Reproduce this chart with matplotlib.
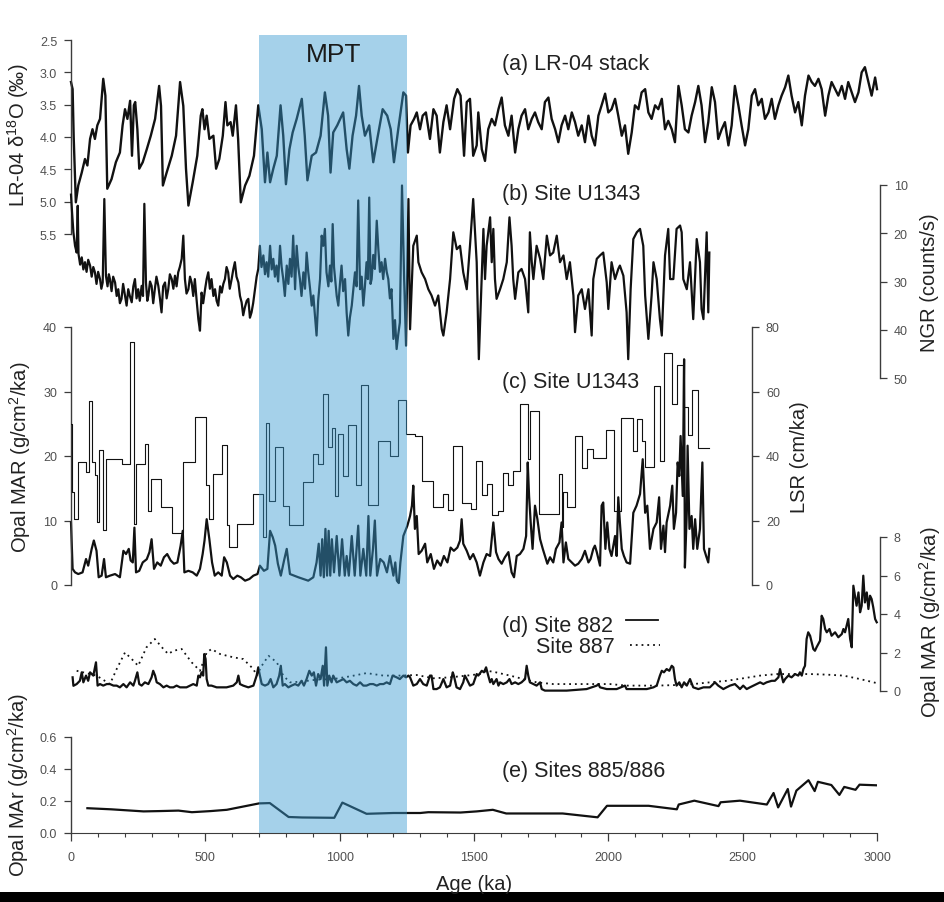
import matplotlib.pyplot as plt
from matplotlib.lines import Line2D
from matplotlib.patches import Rectangle
from matplotlib.ticker import MultipleLocator, FormatStrFormatter

plt.rcParams['font.family'] = ['Liberation Sans', 'DejaVu Sans']
plt.rcParams['mathtext.fontset'] = 'custom'
plt.rcParams['mathtext.rm'] = 'Liberation Sans'
plt.rcParams['mathtext.it'] = 'Liberation Sans:italic'

# (age ka, d18O permil) - LR-04 stack
lr04 = [(0, 3.15), (6, 3.26), (10, 4.0), (18, 5.01), (27, 4.75), (40, 4.55), (52, 4.34), (61, 4.44), (71, 4.03), (80, 3.88),
        (89, 4.03), (98, 3.82), (108, 3.72), (120, 3.10), (128, 3.36), (135, 4.80), (151, 4.65), (167, 4.39), (182, 4.24), (192, 3.82),
        (201, 3.57), (210, 3.72), (220, 3.44), (227, 4.29), (234, 3.51), (239, 3.46), (247, 3.88), (254, 4.49), (267, 4.39), (282, 4.19),
        (297, 3.98), (313, 3.72), (328, 3.21), (335, 3.52), (342, 4.75), (356, 4.55), (375, 4.29), (391, 3.98), (406, 3.15), (418, 3.52),
        (428, 4.49), (437, 5.06), (453, 4.70), (470, 4.29), (483, 3.67), (489, 3.57), (497, 3.88), (505, 3.67), (515, 4.03), (530, 3.98),
        (540, 4.49), (552, 4.34), (565, 3.98), (575, 3.46), (582, 3.82), (594, 3.77), (602, 3.98), (614, 3.51), (622, 4.03), (632, 5.01),
        (648, 4.75), (664, 4.60), (681, 4.29), (697, 3.51), (710, 3.88), (722, 4.70), (731, 4.24), (741, 4.70), (753, 4.49), (766, 4.29),
        (780, 3.51), (790, 3.98), (800, 4.73), (813, 4.19), (825, 3.93), (840, 3.72), (859, 3.41), (870, 3.98), (880, 4.67), (896, 4.29),
        (912, 4.24), (929, 3.98), (945, 3.31), (957, 3.67), (966, 4.55), (976, 3.93), (991, 3.82), (1013, 3.62), (1026, 4.19), (1036, 4.49),
        (1048, 3.98), (1061, 3.67), (1072, 3.21), (1082, 3.67), (1094, 3.98), (1110, 3.82), (1125, 4.39), (1140, 4.03), (1160, 3.57), (1177, 3.67),
        (1190, 3.88), (1202, 4.39), (1218, 3.88), (1237, 3.31), (1247, 3.36), (1254, 4.24), (1264, 3.82), (1277, 3.72), (1287, 3.62), (1299, 3.88),
        (1309, 3.67), (1321, 3.62), (1336, 4.03), (1349, 3.57), (1361, 3.67), (1373, 4.24), (1386, 3.77), (1398, 3.51), (1411, 3.88), (1426, 3.41),
        (1438, 3.26), (1450, 3.36), (1463, 4.29), (1473, 3.46), (1485, 3.41), (1497, 4.29), (1510, 4.13), (1516, 3.62), (1529, 4.19), (1541, 4.37),
        (1553, 3.88), (1566, 3.72), (1578, 3.82), (1591, 3.57), (1603, 3.39), (1615, 3.82), (1628, 3.98), (1640, 3.67), (1653, 4.24), (1665, 3.88),
        (1677, 3.67), (1690, 3.57), (1702, 3.88), (1715, 3.72), (1727, 3.62), (1739, 3.77), (1752, 3.88), (1764, 3.46), (1777, 3.39), (1789, 3.72),
        (1802, 3.88), (1814, 4.08), (1826, 3.82), (1839, 3.67), (1851, 3.88), (1864, 3.62), (1876, 3.77), (1888, 3.98), (1901, 3.82), (1913, 4.08),
        (1926, 3.67), (1938, 3.98), (1950, 4.13), (1963, 3.67), (1975, 3.51), (1988, 3.33), (2000, 3.62), (2012, 3.57), (2025, 3.41), (2037, 3.67),
        (2050, 3.98), (2062, 3.82), (2074, 4.26), (2087, 3.93), (2099, 3.51), (2112, 3.57), (2124, 3.31), (2137, 3.26), (2149, 3.62), (2161, 3.72),
        (2174, 3.51), (2186, 3.57), (2199, 3.41), (2211, 3.88), (2223, 3.75), (2236, 3.88), (2248, 4.08), (2261, 3.21), (2273, 3.51), (2285, 3.88),
        (2298, 3.93), (2310, 3.67), (2323, 3.46), (2335, 3.21), (2347, 3.51), (2360, 4.08), (2372, 3.77), (2385, 3.23), (2397, 3.46), (2409, 4.03),
        (2422, 3.88), (2434, 3.77), (2447, 4.13), (2459, 3.82), (2471, 3.21), (2484, 3.51), (2496, 3.82), (2509, 4.13), (2521, 3.88), (2534, 3.36),
        (2546, 3.26), (2558, 3.51), (2571, 3.41), (2583, 3.72), (2596, 3.62), (2608, 3.41), (2620, 3.72), (2633, 3.51), (2645, 3.36), (2658, 3.23),
        (2670, 3.05), (2682, 3.36), (2695, 3.62), (2707, 3.46), (2720, 3.82), (2732, 3.36), (2745, 3.05), (2757, 3.15), (2769, 3.21), (2782, 3.10),
        (2794, 3.26), (2807, 3.67), (2819, 3.36), (2831, 3.15), (2844, 3.26), (2856, 3.36), (2869, 3.21), (2881, 3.41), (2893, 3.15), (2906, 3.31),
        (2918, 3.46), (2931, 3.31), (2943, 3.00), (2955, 2.92), (2968, 3.15), (2980, 3.36), (2993, 3.08), (3000, 3.26)]

# (age, NGR counts/s) - Site U1343
ngr = [(0, 12.0), (4, 15.7), (9, 19.8), (15, 22.6), (21, 24.0), (25, 14.3), (28, 24.3), (34, 26.5), (40, 25.0), (46, 27.5),
       (52, 26.0), (58, 28.0), (64, 25.5), (71, 26.7), (77, 29.0), (83, 27.0), (89, 28.1), (95, 30.5), (101, 28.0), (108, 29.5),
       (113, 31.5), (118, 30.2), (124, 12.9), (130, 28.8), (136, 31.0), (141, 28.5), (145, 29.5), (151, 32.0), (157, 29.0), (164, 30.2),
       (170, 33.0), (176, 31.6), (182, 34.5), (188, 33.6), (194, 30.5), (201, 32.9), (207, 35.0), (213, 31.6), (219, 33.0), (226, 34.3),
       (232, 31.0), (238, 29.5), (244, 33.5), (250, 31.6), (256, 34.0), (263, 30.9), (268, 33.0), (273, 13.9), (279, 30.2), (284, 34.0),
       (288, 32.9), (294, 30.0), (300, 30.9), (306, 34.5), (312, 31.6), (318, 29.0), (325, 30.9), (331, 33.5), (337, 36.4), (343, 31.0),
       (350, 30.2), (356, 33.5), (362, 31.6), (368, 28.5), (375, 29.5), (381, 31.5), (387, 28.8), (393, 31.0), (399, 28.1), (405, 27.0),
       (412, 25.3), (418, 20.5), (424, 29.5), (430, 32.5), (437, 31.6), (443, 29.0), (449, 30.2), (455, 33.0), (461, 29.5), (467, 33.5),
       (474, 37.8), (480, 40.2), (486, 32.3), (492, 34.5), (499, 31.6), (505, 29.5), (511, 28.1), (517, 31.5), (523, 29.5), (530, 33.0),
       (536, 31.6), (542, 34.0), (548, 35.0), (555, 31.0), (561, 32.3), (567, 30.5), (573, 29.5), (579, 27.0), (585, 28.1), (591, 31.5),
       (598, 29.5), (604, 27.5), (610, 26.0), (616, 29.0), (623, 30.2), (629, 33.0), (635, 34.3), (641, 37.0), (647, 35.4), (654, 34.0),
       (660, 33.6), (666, 37.5), (672, 36.4), (678, 34.5), (685, 31.6), (691, 29.0), (697, 27.4), (703, 22.6), (709, 27.0), (716, 24.6),
       (722, 28.5), (728, 26.0), (734, 29.0), (741, 22.6), (747, 27.5), (753, 25.3), (759, 29.0), (765, 26.7), (771, 30.0), (778, 22.6),
       (784, 27.0), (790, 29.5), (796, 33.0), (803, 26.7), (809, 30.5), (815, 25.3), (821, 29.0), (827, 20.5), (834, 31.6), (840, 22.6),
       (846, 27.0), (852, 29.5), (858, 33.0), (865, 28.1), (871, 31.5), (877, 24.0), (883, 28.0), (890, 31.6), (896, 35.0), (902, 32.9),
       (908, 37.0), (914, 41.2), (920, 34.0), (927, 29.5), (933, 20.5), (939, 22.6), (945, 19.1), (951, 28.1), (958, 31.0), (964, 26.7),
       (969, 30.0), (974, 18.1), (979, 27.0), (983, 29.5), (989, 33.0), (995, 35.0), (1001, 30.5), (1007, 26.7), (1013, 32.0), (1020, 29.5),
       (1026, 36.5), (1032, 41.2), (1038, 37.5), (1045, 35.0), (1051, 31.6), (1057, 28.1), (1063, 31.0), (1069, 13.2), (1076, 31.6), (1082, 29.0),
       (1088, 35.0), (1094, 31.0), (1100, 26.0), (1105, 29.5), (1110, 12.6), (1115, 30.5), (1119, 29.5), (1125, 24.5), (1131, 27.4), (1138, 17.4),
       (1144, 23.3), (1150, 28.0), (1156, 26.0), (1162, 29.5), (1169, 25.3), (1175, 28.0), (1181, 29.5), (1187, 33.5), (1193, 31.6), (1200, 41.9),
       (1206, 38.0), (1212, 44.0), (1218, 41.0), (1224, 38.5), (1232, 10.1), (1240, 29.5), (1247, 43.3), (1256, 12.9), (1262, 39.9), (1274, 22.6),
       (1287, 20.5), (1293, 26.0), (1305, 28.1), (1318, 29.5), (1330, 31.6), (1342, 32.9), (1355, 35.0), (1367, 32.9), (1380, 39.9), (1386, 41.2),
       (1398, 36.4), (1411, 29.5), (1423, 19.8), (1436, 23.3), (1448, 22.6), (1460, 28.1), (1473, 31.6), (1485, 22.6), (1497, 12.9), (1510, 26.0),
       (1518, 46.1), (1535, 19.1), (1541, 29.5), (1547, 22.6), (1560, 16.7), (1566, 26.0), (1572, 19.1), (1578, 29.5), (1584, 33.6), (1597, 31.6),
       (1609, 29.5), (1622, 26.0), (1632, 16.7), (1640, 22.6), (1646, 29.5), (1653, 33.6), (1665, 28.1), (1677, 27.4), (1690, 29.5), (1702, 36.4),
       (1708, 19.8), (1715, 26.0), (1721, 29.5), (1733, 22.6), (1746, 25.3), (1758, 29.5), (1771, 20.5), (1783, 24.6), (1795, 24.0), (1808, 20.5),
       (1820, 26.0), (1833, 24.6), (1845, 29.5), (1857, 26.0), (1870, 32.9), (1876, 40.5), (1888, 32.9), (1901, 31.6), (1913, 35.7), (1926, 31.6),
       (1938, 41.2), (1944, 29.5), (1957, 25.3), (1969, 24.6), (1981, 24.0), (1994, 30.2), (2000, 35.7), (2012, 26.0), (2025, 29.5), (2037, 27.4),
       (2043, 26.7), (2056, 28.8), (2068, 36.4), (2074, 46.1), (2083, 31.6), (2093, 21.2), (2106, 19.8), (2118, 19.1), (2130, 22.6), (2137, 32.9),
       (2149, 41.9), (2161, 32.9), (2168, 26.0), (2180, 29.5), (2192, 37.8), (2199, 41.2), (2211, 24.6), (2223, 19.1), (2230, 29.5), (2242, 29.5),
       (2254, 19.1), (2267, 18.4), (2273, 19.8), (2279, 29.5), (2292, 31.6), (2304, 26.0), (2316, 37.8), (2329, 21.2), (2341, 26.0), (2347, 35.7),
       (2354, 37.8), (2366, 19.8), (2372, 36.4), (2376, 24.0)]

# (age, opal MAR g/cm2/ka) - Site U1343
opal_u1343 = [(0, 9.7), (6, 2.5), (15, 1.96), (27, 1.70), (43, 1.96), (56, 4.03), (64, 3.0), (77, 5.6), (85, 6.9), (95, 5.3),
              (103, 1.2), (114, 1.45), (123, 4.03), (130, 1.2), (145, 1.45), (164, 1.7), (182, 1.2), (195, 5.3), (205, 4.8), (215, 5.6),
              (222, 3.8), (230, 3.5), (236, 8.9), (242, 1.96), (254, 2.2), (267, 3.5), (282, 4.0), (292, 5.1), (300, 7.1), (309, 2.5),
              (321, 3.5), (334, 3.0), (346, 4.3), (358, 4.8), (371, 3.8), (383, 3.3), (396, 3.5), (408, 6.1), (416, 8.4), (422, 1.96),
              (437, 2.2), (453, 1.96), (468, 1.45), (480, 2.5), (490, 4.8), (497, 6.9), (505, 10.2), (515, 7.1), (525, 3.5), (535, 1.45),
              (548, 1.96), (561, 1.45), (570, 4.3), (580, 3.5), (592, 1.45), (604, 0.93), (619, 1.45), (632, 1.2), (648, 0.67), (664, 0.93),
              (679, 1.45), (694, 1.7), (703, 3.0), (718, 2.2), (731, 2.5), (741, 8.4), (751, 7.4), (760, 6.1), (770, 3.3), (781, 1.45),
              (793, 3.8), (803, 5.6), (815, 1.7), (830, 1.45), (846, 1.2), (865, 0.93), (883, 0.67), (902, 1.2), (914, 3.5), (922, 6.4),
              (929, 1.45), (935, 7.1), (941, 1.2), (947, 8.7), (953, 1.45), (959, 8.4), (965, 1.45), (971, 7.1), (979, 1.96), (989, 7.6),
              (999, 1.45), (1009, 7.1), (1019, 1.45), (1026, 4.5), (1034, 1.45), (1045, 7.6), (1056, 1.45), (1069, 9.2), (1077, 1.45), (1088, 5.6),
              (1099, 1.45), (1107, 10.7), (1114, 1.45), (1124, 5.6), (1131, 10.0), (1139, 1.45), (1151, 4.03), (1164, 3.5), (1176, 1.96), (1187, 4.5),
              (1200, 1.45), (1207, 3.5), (1213, 0.67), (1220, 0.3), (1226, 3.5), (1237, 7.6), (1252, 9.2), (1262, 10.7), (1269, 12.3), (1274, 15.4),
              (1280, 8.7), (1287, 10.7), (1294, 4.8), (1305, 5.3), (1318, 6.4), (1326, 3.5), (1339, 4.8), (1351, 2.5), (1363, 3.8), (1376, 3.0),
              (1388, 4.5), (1401, 3.5), (1413, 5.8), (1425, 5.3), (1438, 5.8), (1448, 6.9), (1454, 10.2), (1460, 6.4), (1473, 5.3), (1485, 4.0),
              (1497, 4.8), (1510, 3.5), (1522, 1.45), (1535, 3.5), (1547, 4.8), (1560, 4.5), (1572, 9.7), (1582, 5.1), (1591, 4.03), (1603, 3.3),
              (1615, 4.3), (1628, 5.1), (1640, 1.96), (1649, 1.2), (1659, 4.5), (1671, 4.8), (1684, 5.6), (1694, 7.6), (1700, 19.0), (1705, 13.8),
              (1711, 9.7), (1718, 5.6), (1727, 12.3), (1736, 10.2), (1746, 7.1), (1756, 5.6), (1764, 4.5), (1773, 3.3), (1783, 4.3), (1795, 3.5),
              (1805, 5.6), (1818, 6.6), (1826, 9.7), (1833, 3.5), (1842, 6.6), (1851, 4.03), (1864, 3.5), (1876, 3.0), (1888, 3.3), (1901, 4.03),
              (1913, 5.3), (1926, 3.5), (1934, 4.03), (1944, 5.6), (1950, 6.1), (1957, 5.1), (1969, 3.0), (1975, 12.3), (1981, 12.8), (1989, 5.6),
              (1996, 9.7), (2004, 5.6), (2012, 4.5), (2025, 7.6), (2031, 4.5), (2037, 13.6), (2043, 9.7), (2050, 5.6), (2058, 4.5), (2068, 3.5),
              (2081, 3.3), (2093, 11.2), (2105, 12.3), (2118, 14.1), (2128, 19.5), (2137, 11.2), (2145, 12.3), (2155, 5.6), (2168, 8.7), (2180, 9.7),
              (2189, 13.6), (2196, 5.6), (2205, 9.2), (2211, 5.1), (2217, 9.7), (2230, 12.3), (2238, 15.4), (2244, 8.7), (2252, 11.2), (2258, 19.0),
              (2264, 16.9), (2269, 23.1), (2277, 13.8), (2282, 35.0), (2285, 2.7), (2292, 11.2), (2295, 21.6), (2302, 8.7), (2310, 10.7), (2316, 5.6),
              (2323, 10.2), (2331, 5.6), (2341, 8.7), (2350, 19.0), (2356, 5.6), (2364, 4.5), (2372, 3.5), (2376, 5.6)]

# (step start age, LSR cm/ka) - Site U1343, last entry closes the final step
lsr = [(0, 50.0), (3, 28.8), (11, 20.5), (25, 38.1), (54, 35.0), (68, 57.0), (79, 38.0), (89, 34.0), (96, 19.5), (106, 42.0),
       (120, 17.0), (129, 39.0), (189, 37.6), (220, 75.3), (234, 19.0), (241, 37.6), (275, 43.8), (288, 23.1), (297, 32.9), (335, 24.1),
       (375, 16.2), (416, 38.1), (462, 52.0), (503, 30.9), (515, 20.5), (530, 34.5), (561, 43.5), (580, 18.5), (589, 11.8), (619, 19.0),
       (676, 28.3), (713, 14.8), (725, 50.2), (738, 26.2), (759, 42.7), (788, 24.5), (813, 18.7), (865, 31.9), (900, 40.5), (921, 37.6),
       (937, 59.3), (958, 42.7), (970, 48.7), (983, 27.5), (993, 46.9), (1014, 33.9), (1032, 49.5), (1061, 31.1), (1079, 62.1), (1107, 24.9),
       (1141, 44.6), (1187, 39.9), (1216, 57.5), (1247, 46.9), (1280, 46.1), (1305, 32.1), (1346, 24.1), (1386, 28.3), (1404, 23.3), (1423, 43.2),
       (1454, 25.5), (1490, 23.6), (1508, 38.6), (1531, 27.8), (1547, 31.4), (1568, 21.8), (1591, 23.1), (1609, 34.8), (1628, 30.9), (1646, 35.2),
       (1671, 56.0), (1702, 39.1), (1708, 53.9), (1742, 22.1), (1816, 34.5), (1826, 18.0), (1833, 28.8), (1847, 24.1), (1876, 46.1), (1901, 36.3),
       (1919, 42.2), (1944, 39.4), (1990, 48.1), (2021, 22.8), (2046, 51.8), (2091, 41.4), (2106, 51.5), (2124, 44.8), (2138, 36.5), (2170, 61.8),
       (2192, 38.6), (2207, 72.0), (2238, 56.2), (2254, 68.3), (2279, 55.1), (2295, 46.4), (2310, 60.5), (2335, 42.5), (2376, 42.5)]

# (age, opal MAR) - Site 882
site882 = [(6, 0.71), (9, 0.27), (21, 0.36), (33, 0.53), (40, 0.97), (46, 0.45), (56, 0.80), (64, 0.53), (71, 0.97), (83, 0.80),
           (93, 1.49), (99, 0.28), (108, 0.36), (120, 0.28), (133, 0.36), (145, 0.36), (158, 0.28), (170, 0.28), (182, 0.19), (195, 0.36),
           (207, 0.19), (220, 0.45), (232, 0.28), (238, 0.53), (247, 0.97), (254, 0.36), (263, 0.28), (275, 0.45), (288, 0.36), (300, 0.71),
           (306, 1.05), (313, 0.80), (319, 0.45), (331, 0.36), (344, 0.19), (356, 0.28), (368, 0.19), (381, 0.19), (393, 0.28), (406, 0.19),
           (418, 0.19), (430, 0.19), (443, 0.28), (455, 0.36), (468, 0.28), (474, 0.80), (480, 0.71), (486, 0.97), (492, 0.80), (496, 1.92),
           (501, 1.66), (505, 0.62), (511, 0.28), (523, 0.28), (542, 0.19), (561, 0.19), (579, 0.19), (604, 0.28), (617, 0.45), (623, 0.80),
           (629, 0.36), (641, 0.28), (660, 0.19), (679, 0.28), (691, 0.80), (697, 1.23), (703, 0.80), (710, 0.36), (722, 0.28), (734, 0.36),
           (743, 0.62), (753, 0.19), (765, 0.36), (775, 0.80), (781, 1.31), (788, 0.28), (796, 0.36), (809, 0.19), (821, 0.28), (834, 0.36),
           (846, 0.28), (858, 0.53), (867, 0.28), (877, 0.62), (887, 1.05), (896, 0.80), (904, 0.97), (912, 0.28), (920, 0.88), (929, 0.62),
           (937, 1.31), (942, 0.28), (949, 2.27), (954, 0.28), (961, 0.80), (970, 0.45), (976, 0.80), (989, 0.45), (1001, 0.53), (1014, 0.62),
           (1026, 0.45), (1038, 0.53), (1051, 0.36), (1063, 0.28), (1076, 0.45), (1088, 0.28), (1100, 0.28), (1113, 0.36), (1125, 0.36), (1138, 0.28),
           (1150, 0.36), (1163, 0.36), (1175, 0.45), (1187, 0.36), (1197, 0.80), (1212, 0.71), (1224, 0.62), (1237, 0.80), (1247, 0.71), (1256, 0.80),
           (1262, 0.71), (1274, 0.28), (1287, 0.36), (1299, 0.62), (1311, 0.36), (1324, 0.28), (1336, 0.80), (1342, 0.80), (1349, 0.10), (1361, 0.10),
           (1373, 0.19), (1386, 0.62), (1398, 0.19), (1411, 0.28), (1421, 0.97), (1425, 0.80), (1435, 0.19), (1448, 0.10), (1460, 0.45), (1466, 0.80),
           (1473, 0.62), (1485, 0.28), (1497, 0.36), (1510, 0.88), (1516, 0.80), (1529, 1.05), (1537, 0.97), (1545, 1.23), (1553, 0.80), (1560, 0.45),
           (1566, 0.62), (1572, 0.36), (1584, 0.62), (1591, 0.28), (1597, 0.45), (1609, 0.36), (1622, 0.45), (1632, 0.62), (1640, 0.36), (1653, 0.45),
           (1665, 0.36), (1677, 0.45), (1690, 0.62), (1696, 1.31), (1702, 0.80), (1708, 0.45), (1721, 0.36), (1733, 0.28), (1746, 0.45), (1752, 0.10),
           (1764, 0.02), (1845, 0.02), (1919, 0.10), (1957, 0.28), (1963, 0.36), (1969, 0.19), (1994, 0.10), (2031, 0.10), (2062, 0.28), (2068, 0.10),
           (2143, 0.10), (2168, 0.19), (2180, 0.28), (2192, 0.80), (2199, 1.05), (2207, 0.97), (2217, 1.14), (2227, 1.05), (2236, 1.31), (2242, 1.23),
           (2248, 0.62), (2254, 0.28), (2264, 0.45), (2273, 0.19), (2282, 0.45), (2292, 0.28), (2304, 0.62), (2316, 0.19), (2335, 0.10), (2354, 0.19),
           (2378, 0.19), (2397, 0.45), (2409, 0.28), (2428, 0.10), (2440, 0.19), (2453, 0.28), (2471, 0.36), (2484, 0.19), (2490, 0.10), (2502, 0.28),
           (2515, 0.10), (2527, 0.19), (2540, 0.28), (2552, 0.36), (2565, 0.45), (2577, 0.36), (2589, 0.45), (2608, 0.53), (2620, 0.53), (2633, 0.71),
           (2639, 1.14), (2645, 0.80), (2651, 0.45), (2658, 0.62), (2670, 0.80), (2682, 0.71), (2695, 0.88), (2707, 0.80), (2713, 0.97), (2720, 0.80),
           (2726, 1.14), (2732, 1.31), (2738, 2.70), (2744, 3.05), (2751, 2.87), (2763, 2.18), (2769, 2.09), (2775, 2.27), (2788, 2.61), (2794, 3.91),
           (2800, 3.74), (2807, 3.22), (2813, 3.05), (2823, 3.22), (2831, 2.87), (2844, 3.05), (2856, 2.79), (2869, 2.96), (2875, 3.22), (2881, 3.05),
           (2887, 3.39), (2893, 3.74), (2900, 2.70), (2906, 2.27), (2912, 5.47), (2918, 4.95), (2924, 4.43), (2931, 5.12), (2937, 4.09), (2943, 4.43),
           (2949, 5.99), (2955, 4.60), (2962, 5.12), (2968, 4.26), (2974, 4.95), (2980, 4.78), (2986, 4.35), (2993, 3.74), (2999, 3.57)]

# (age, opal MAR) - Site 887
site887 = [(21, 1.05), (95, 0.80), (145, 0.36), (170, 1.14), (201, 2.0), (226, 1.66), (250, 1.31), (281, 2.27), (312, 2.7), (344, 2.18),
           (362, 1.92), (381, 2.09), (412, 2.18), (449, 1.49), (480, 1.05), (505, 2.0), (523, 2.18), (555, 1.92), (604, 1.75), (641, 1.66),
           (679, 1.14), (691, 0.80), (710, 1.31), (735, 1.83), (766, 1.49), (790, 0.80), (815, 0.45), (852, 0.48), (914, 0.59), (976, 0.62),
           (1038, 0.76), (1100, 0.93), (1163, 0.80), (1224, 0.80), (1287, 0.83), (1349, 0.66), (1411, 0.71), (1473, 0.80), (1522, 0.88), (1547, 1.05),
           (1572, 1.0), (1634, 0.80), (1684, 0.62), (1733, 0.45), (1795, 0.36), (1882, 0.36), (2006, 0.36), (2068, 0.28), (2180, 0.28), (2254, 0.31),
           (2316, 0.36), (2378, 0.45), (2440, 0.53), (2502, 0.66), (2565, 0.80), (2627, 0.88), (2751, 0.88), (2813, 0.85), (2875, 0.80), (2937, 0.62),
           (2999, 0.41)]

# (age, opal MAR) - Sites 885/886
site885 = [(61, 0.155), (150, 0.148), (270, 0.135), (330, 0.137), (400, 0.140), (450, 0.130), (520, 0.137), (580, 0.145), (640, 0.165), (700, 0.185),
           (740, 0.187), (810, 0.100), (860, 0.097), (980, 0.095), (1010, 0.190), (1100, 0.120), (1200, 0.125), (1300, 0.125), (1330, 0.130), (1450, 0.128),
           (1510, 0.135), (1570, 0.145), (1620, 0.122), (1700, 0.122), (1830, 0.122), (1960, 0.098), (1995, 0.170), (2150, 0.170), (2255, 0.148), (2262, 0.178),
           (2320, 0.202), (2410, 0.168), (2418, 0.192), (2490, 0.202), (2590, 0.178), (2615, 0.250), (2632, 0.160), (2668, 0.275), (2680, 0.165), (2700, 0.265),
           (2745, 0.330), (2768, 0.262), (2780, 0.320), (2830, 0.300), (2860, 0.238), (2878, 0.288), (2920, 0.270), (2935, 0.302), (3000, 0.298)]

mpt_start, mpt_end = 700, 1250

W, H = 945, 903
spine_c = '#3c3c3c'
tick_c = '#505050'
line_c = '#111111'
text_c = '#222222'


def rect(x0, x1, y0, y1):
    return [x0 / W, 1 - y1 / H, (x1 - x0) / W, (y1 - y0) / H]


def fx(px):
    return px / W


def fy(py):
    return 1 - py / H


def panel(ytop, ybot, side, ylim, ticks, fmt):
    ax = fig.add_axes(rect(71, 877, ytop, ybot))
    ax.set_facecolor('none')
    ax.set_xlim(0, 3000)
    ax.set_ylim(*ylim)
    for s in ax.spines.values():
        s.set_visible(False)
    ax.spines[side].set_visible(True)
    ax.spines[side].set_color(spine_c)
    ax.spines[side].set_linewidth(1.0)
    ax.set_xticks([])
    ax.yaxis.set_ticks_position(side)
    ax.set_yticks(ticks)
    ax.yaxis.set_major_formatter(FormatStrFormatter(fmt))
    ax.tick_params(axis='y', direction='out', length=5, width=0.9, color=spine_c,
                   labelcolor=tick_c, labelsize=9, pad=5)
    return ax


fig = plt.figure(figsize=(W / 100, H / 100), dpi=100)

# (a) LR-04
ax_a = panel(41, 235, 'left', (5.5, 2.5), [2.5, 3.0, 3.5, 4.0, 4.5, 5.0, 5.5], '%.1f')
a_x, a_y = zip(*lr04)
ax_a.plot(a_x, a_y, color=line_c, lw=1.7, clip_on=False)

# (b) NGR
ax_b = panel(186, 379, 'right', (50, 10), [10, 20, 30, 40, 50], '%d')
ax_b.spines['right'].set_position(('outward', 2))
b_x, b_y = zip(*ngr)
ax_b.plot(b_x, b_y, color=line_c, lw=1.6, clip_on=False)

# (c) opal MAR + LSR
ax_c = panel(328, 586, 'left', (0, 40), [0, 10, 20, 30, 40], '%d')
c_x, c_y = zip(*opal_u1343)
ax_c.plot(c_x, c_y, color=line_c, lw=1.6, clip_on=False)
ax_c2 = panel(328, 586, 'right', (0, 80), [0, 20, 40, 60, 80], '%d')
ax_c2.spines['right'].set_position(('axes', (752 - 71) / 806))
l_x, l_y = zip(*lsr)
ax_c2.step(l_x, l_y, where='post', color=line_c, lw=0.8)

# (d) Sites 882 / 887
ax_d = panel(538, 692, 'right', (0, 8), [0, 2, 4, 6, 8], '%d')
ax_d.spines['right'].set_position(('outward', 2))
d_x, d_y = zip(*site882)
ax_d.plot(d_x, d_y, color=line_c, lw=1.6, clip_on=False)
d2_x, d2_y = zip(*site887)
ax_d.plot(d2_x, d2_y, color=line_c, lw=1.3, ls=(0, (1, 2.2)), clip_on=False)

# (e) Sites 885/886
ax_e = panel(738, 834, 'left', (0, 0.6), [0.0, 0.2, 0.4, 0.6], '%.1f')
ax_e.spines['bottom'].set_visible(True)
ax_e.spines['bottom'].set_color(spine_c)
ax_e.xaxis.set_ticks_position('bottom')
ax_e.xaxis.set_major_locator(MultipleLocator(500))
ax_e.xaxis.set_minor_locator(MultipleLocator(100))
ax_e.tick_params(axis='x', which='major', direction='out', length=6, width=0.9,
                 color=spine_c, labelcolor=tick_c, labelsize=9, pad=7)
ax_e.tick_params(axis='x', which='minor', direction='out', length=3, width=0.8, color=spine_c)
e_x, e_y = zip(*site885)
ax_e.plot(e_x, e_y, color=line_c, lw=1.6)

# MPT band drawn on top of everything
ax_band = fig.add_axes(rect(71, 877, 36, 834))
ax_band.set_xlim(0, 3000)
ax_band.set_ylim(0, 1)
ax_band.axvspan(mpt_start, mpt_end, color='#399bd2', alpha=0.45, lw=0)
ax_band.axis('off')

fig.text(fx(334), fy(55), 'MPT', ha='center', va='center', fontsize=19, color='#1a1a1a')

lab = dict(fontsize=15.5, color=text_c, va='baseline')
fig.text(fx(502), fy(70), '(a) LR-04 stack', **lab)
fig.text(fx(502), fy(200), '(b) Site U1343', **lab)
fig.text(fx(502), fy(388), '(c) Site U1343', **lab)
fig.text(fx(502), fy(632), '(d) Site 882', **lab)
fig.text(fx(615), fy(653), 'Site 887', ha='right', **lab)
fig.text(fx(502), fy(777), '(e) Sites 885/886', **lab)
fig.add_artist(Line2D([fx(626), fx(658)], [fy(621), fy(621)], color=line_c, lw=1.3,
                      transform=fig.transFigure))
fig.add_artist(Line2D([fx(630), fx(660)], [fy(646), fy(646)], color=line_c, lw=1.3,
                      ls=(0, (1, 2.2)), transform=fig.transFigure))

yl = dict(rotation=90, ha='center', va='center', fontsize=14.5, color=text_c)
fig.text(fx(18), fy(135), r'LR-04 δ$^{18}$O (‰)', **yl)
fig.text(fx(20), fy(457), r'Opal MAR (g/cm$^2$/ka)', **yl)
fig.text(fx(18), fy(785), r'Opal MAr (g/cm$^2$/ka)', **yl)
fig.text(fx(800), fy(457), 'LSR (cm/ka)', **yl)
fig.text(fx(930), fy(283), 'NGR (counts/s)', **yl)
fig.text(fx(930), fy(622), r'Opal MAR (g/cm$^2$/ka)', **yl)
fig.text(fx(474), fy(885), 'Age (ka)', ha='center', va='center', fontsize=14.5, color=text_c)

fig.add_artist(Rectangle((0, 0), 1, 10 / H, transform=fig.transFigure, color='black', lw=0))

fig.savefig('out.png', dpi=100)
